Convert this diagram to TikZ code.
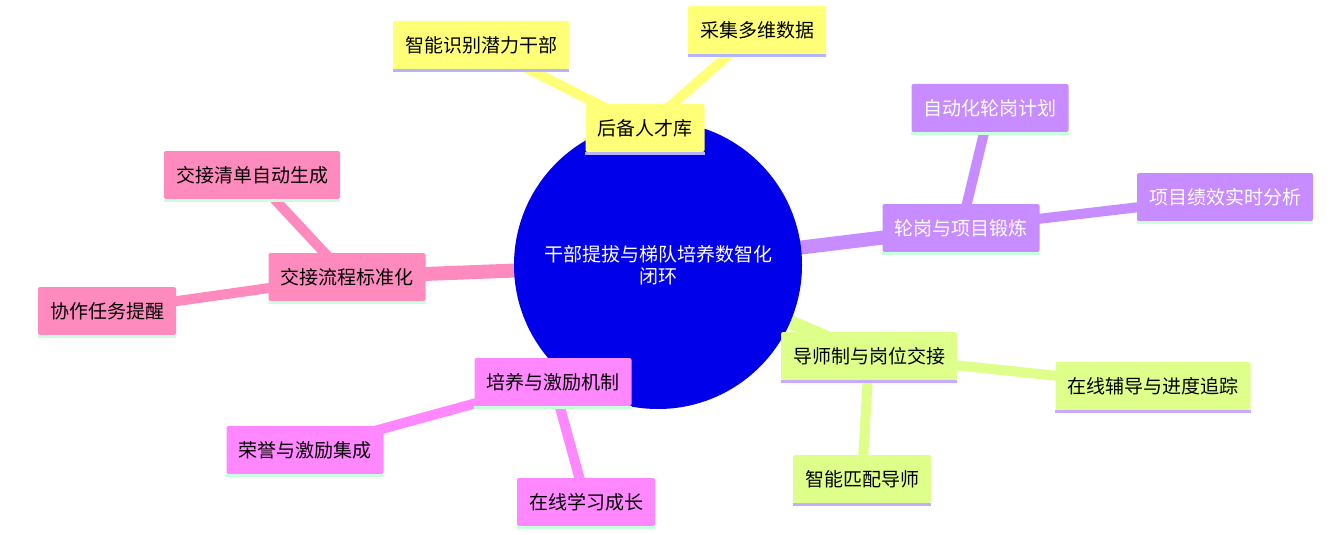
\documentclass[tikz,border=0pt]{standalone}
\usepackage{fontspec}
\setmainfont{Noto Sans CJK SC}
\begin{document}
\begin{tikzpicture}[x=1pt,y=-1pt,
 box/.style={rectangle,rounded corners=2pt,minimum height=48pt,inner xsep=12pt,font=\fontsize{19}{22}\selectfont,text=black},
 yel/.style={box,fill=kcy},
 pur/.style={box,fill=kcp,text=white},
 grn/.style={box,fill=kcg},
 mag/.style={box,fill=kcm},
 rose/.style={box,fill=kcr},
 e/.style={line width=#1,line cap=round}]
\useasboundingbox (0,0) rectangle (1342,535);
\definecolor{kcy}{RGB}{255,255,120}
\definecolor{kcp}{RGB}{199,140,255}
\definecolor{kcg}{RGB}{222,255,138}
\definecolor{kcm}{RGB}{255,135,255}
\definecolor{kcr}{RGB}{255,138,190}
\definecolor{kly}{RGB}{180,180,255}
\definecolor{klg}{RGB}{200,255,220}
\definecolor{klp}{RGB}{200,170,255}
\definecolor{kroot}{RGB}{0,0,235}
\path (645,128) coordinate (a) (481,45) coordinate (a1) (757,30) coordinate (a2)
 (961,228) coordinate (b) (990,108) coordinate (b1) (1225,197) coordinate (b2)
 (869,356) coordinate (c) (1153,386) coordinate (c1) (862,479) coordinate (c2)
 (553,382) coordinate (d) (305,450) coordinate (d1) (586,502) coordinate (d2)
 (347,277) coordinate (f) (252,175) coordinate (f1) (107,311) coordinate (f2)
 (658,265) coordinate (m);
\draw[e=14pt,kcy] (m)--(a); \draw[e=10pt,kcy] (a)--(a1); \draw[e=10pt,kcy] (a)--(a2);
\draw[e=14pt,kcp] (m)--(b); \draw[e=10pt,kcp] (b)--(b1); \draw[e=10pt,kcp] (b)--(b2);
\draw[e=14pt,kcg] (m)--(c); \draw[e=10pt,kcg] (c)--(c1); \draw[e=10pt,kcg] (c)--(c2);
\draw[e=14pt,kcm] (m)--(d); \draw[e=10pt,kcm] (d)--(d1); \draw[e=10pt,kcm] (d)--(d2);
\draw[e=14pt,kcr] (m)--(f); \draw[e=10pt,kcr] (f)--(f1); \draw[e=10pt,kcr] (f)--(f2);
\node[circle,fill=kroot,minimum size=288pt,text=white,align=center,font=\fontsize{19}{22}\selectfont] (root) at (m) {干部提拔与梯队培养数智化\\闭环};
\node[yel] (na) at (a) {后备人才库};
\node[yel] (na1) at (a1) {智能识别潜力干部};
\node[yel] (na2) at (a2) {采集多维数据};
\node[pur] (nb) at (b) {轮岗与项目锻炼};
\node[pur] (nb1) at (b1) {自动化轮岗计划};
\node[pur] (nb2) at (b2) {项目绩效实时分析};
\node[grn] (nc) at (c) {导师制与岗位交接};
\node[grn] (nc1) at (c1) {在线辅导与进度追踪};
\node[grn] (nc2) at (c2) {智能匹配导师};
\node[mag] (nd) at (d) {培养与激励机制};
\node[mag] (nd1) at (d1) {荣誉与激励集成};
\node[mag] (nd2) at (d2) {在线学习成长};
\node[rose] (nf) at (f) {交接流程标准化};
\node[rose] (nf1) at (f1) {交接清单自动生成};
\node[rose] (nf2) at (f2) {协作任务提醒};
\foreach \n/\c in {na/kly,na1/kly,na2/kly,nb/klg,nb1/klg,nb2/klg,nc/klp,nc1/klp,nc2/klp,nd/klg,nd1/klg,nd2/klg,nf/klg,nf1/klg,nf2/klg}
  \draw[\c,line width=3pt] ([yshift=-1.5pt]\n.south west)--([yshift=-1.5pt]\n.south east);
\end{tikzpicture}
\end{document}
